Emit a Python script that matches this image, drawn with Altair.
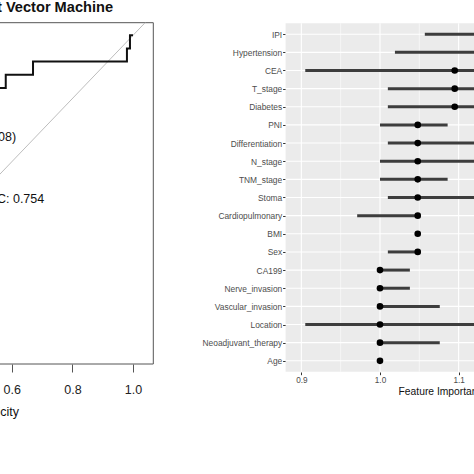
import json

import altair as alt
import pandas as pd

# ---------------------------------------------------------------------------
# Left panel: ROC curve of the support vector machine
# ---------------------------------------------------------------------------
roc_fpr = [0.00, 0.00, 0.04, 0.04, 0.08, 0.08, 0.14, 0.14, 0.20, 0.20, 0.25, 0.25,
           0.33, 0.33, 0.42, 0.42, 0.50, 0.50, 0.58, 0.58, 0.67, 0.67, 0.98, 0.98,
           0.99, 0.99, 1.00]
roc_tpr = [0.000, 0.250, 0.250, 0.375, 0.375, 0.500, 0.500, 0.583, 0.583, 0.667,
           0.667, 0.708, 0.708, 0.750, 0.750, 0.792, 0.792, 0.833, 0.833, 0.875,
           0.875, 0.917, 0.917, 0.958, 0.958, 1.000, 1.000]
roc_ticks = [0.6, 0.8, 1.0]
model_title = "Support Vector Machine"
threshold_label = "0.512 (0.750, 0.708)"
auc_label = "AUC: 0.754"
roc_xlabel = "1 - Specificity"

# ---------------------------------------------------------------------------
# Right panel: permutation feature importance (ratio) with 5-95% interval
# ---------------------------------------------------------------------------
features = ["IPI", "Hypertension", "CEA", "T_stage", "Diabetes", "PNI",
            "Differentiation", "N_stage", "TNM_stage", "Stoma", "Cardiopulmonary",
            "BMI", "Sex", "CA199", "Nerve_invasion", "Vascular_invasion",
            "Location", "Neoadjuvant_therapy", "Age"]
importance = [1.190, 1.143, 1.095, 1.095, 1.095, 1.048, 1.048, 1.048, 1.048, 1.048,
              1.048, 1.048, 1.048, 1.000, 1.000, 1.000, 1.000, 1.000, 1.000]
imp_lo = [1.057, 1.019, 0.905, 1.010, 1.010, 1.000, 1.010, 1.000, 1.000, 1.010,
          0.971, 1.048, 1.010, 1.000, 1.000, 1.000, 0.905, 1.000, 1.000]
imp_hi = [1.248, 1.190, 1.143, 1.143, 1.143, 1.086, 1.133, 1.133, 1.086, 1.133,
          1.048, 1.048, 1.048, 1.038, 1.038, 1.076, 1.143, 1.076, 1.000]
imp_major = [0.9, 1.0, 1.1, 1.2]
imp_minor = [0.95, 1.05, 1.15, 1.25]
imp_xlabel = "Feature Importance"

FONT = "Liberation Sans"

# ---------------------------------------------------------------------------
# Scales: both panels share one canvas, each with its own pixel range
# ---------------------------------------------------------------------------
ROC_X_DOM = [-0.04, 1.067]
ROC_Y_DOM = [-0.04, 1.04]
roc_xs = alt.Scale(domain=ROC_X_DOM, range=[-182.1, 153.3], nice=False, zero=False)
roc_ys = alt.Scale(domain=ROC_Y_DOM, range=[364.0, 22.7], nice=False, zero=False)

IMP_X_DOM = [0.880, 1.2815]
IMP_Y_DOM = [-0.6, len(features) - 0.4]
imp_xs = alt.Scale(domain=IMP_X_DOM, range=[285.6, 601.4], nice=False, zero=False)
imp_ys = alt.Scale(domain=IMP_Y_DOM, range=[23.3, 371.7], nice=False, zero=False)

roc_xaxis = alt.Axis(orient="bottom", offset=-110, values=roc_ticks, format=".1f",
                     title=None, domain=False, grid=False, tickSize=8,
                     tickColor="#555555", tickWidth=1, labelFont=FONT,
                     labelFontSize=12.5, labelColor="#222222", labelPadding=11)
imp_xaxis = alt.Axis(orient="bottom", offset=-102, values=imp_major, format=".1f",
                     title=None, domain=False, grid=False, tickSize=2.7,
                     tickColor="#333333", tickWidth=1, labelFont=FONT,
                     labelFontSize=8.2, labelColor="#4D4D4D", labelPadding=1.3)
imp_yaxis = alt.Axis(orient="left", offset=-285.6, values=list(range(len(features))),
                     labelExpr=json.dumps(features) + "[datum.value]",
                     title=None, domain=False, grid=False, tickSize=3,
                     tickColor="#333333", tickWidth=1, labelFont=FONT,
                     labelFontSize=8.4, labelColor="#4D4D4D", labelPadding=0.9)


def rx(field):
    return alt.X(field, type="quantitative", scale=roc_xs, axis=roc_xaxis)


def ry(field):
    return alt.Y(field, type="quantitative", scale=roc_ys, axis=None)


def ix(field):
    return alt.X(field, type="quantitative", scale=imp_xs, axis=imp_xaxis)


def iy(field):
    return alt.Y(field, type="quantitative", scale=imp_ys, axis=imp_yaxis)


# ---------------------------------------------------------------------------
# ROC panel layers
# ---------------------------------------------------------------------------
frame_df = pd.DataFrame({"x0": [ROC_X_DOM[0]], "x1": [ROC_X_DOM[1]],
                         "y0": [ROC_Y_DOM[0]], "y1": [ROC_Y_DOM[1]]})
frame = alt.Chart(frame_df).mark_rect(fill=None, stroke="#555555", strokeWidth=1).encode(
    x=rx("x0"), x2="x1", y=ry("y0"), y2="y1")

diag_df = pd.DataFrame({"a": [ROC_Y_DOM[0]], "b": [ROC_Y_DOM[1]]})
diag = alt.Chart(diag_df).mark_rule(color="#BDBDBD", strokeWidth=1).encode(
    x=rx("a"), x2="b", y=ry("a"), y2="b")

curve_df = pd.DataFrame({"fpr": roc_fpr, "tpr": roc_tpr,
                         "step": list(range(len(roc_fpr)))})
curve = alt.Chart(curve_df).mark_line(color="#111111", strokeWidth=2).encode(
    x=rx("fpr"), y=ry("tpr"), order="step:Q")

notes_df = pd.DataFrame({
    "label": [threshold_label, auc_label, roc_xlabel],
    "nx": [0.614, 0.707, 0.624],
    "ny": [0.679, 0.481, -0.191],
})
notes = alt.Chart(notes_df).mark_text(align="right", baseline="middle", font=FONT,
                                      fontSize=12.5, color="#111111").encode(
    x=rx("nx"), y=ry("ny"), text="label:N")

title_df = pd.DataFrame({"label": [model_title], "nx": [0.934], "ny": [1.088]})
title = alt.Chart(title_df).mark_text(align="right", baseline="middle", font=FONT,
                                      fontSize=14.6, fontWeight="bold",
                                      color="#111111").encode(
    x=rx("nx"), y=ry("ny"), text="label:N")

roc_panel = alt.layer(frame, diag, curve, notes, title)

# ---------------------------------------------------------------------------
# Feature importance panel layers
# ---------------------------------------------------------------------------
bg_df = pd.DataFrame({"x0": [IMP_X_DOM[0]], "x1": [IMP_X_DOM[1]],
                      "y0": [IMP_Y_DOM[0]], "y1": [IMP_Y_DOM[1]]})
bg = alt.Chart(bg_df).mark_rect(fill="#EBEBEB").encode(
    x=ix("x0"), x2="x1", y=iy("y0"), y2="y1")

minor_df = pd.DataFrame({"v": imp_minor, "y0": IMP_Y_DOM[0], "y1": IMP_Y_DOM[1]})
minor = alt.Chart(minor_df).mark_rule(color="#FFFFFF", strokeWidth=0.55).encode(
    x=ix("v"), y=iy("y0"), y2="y1")

major_df = pd.DataFrame({"v": imp_major, "y0": IMP_Y_DOM[0], "y1": IMP_Y_DOM[1]})
major = alt.Chart(major_df).mark_rule(color="#FFFFFF", strokeWidth=1.1).encode(
    x=ix("v"), y=iy("y0"), y2="y1")

rows_df = pd.DataFrame({"row": list(range(len(features))),
                        "x0": IMP_X_DOM[0], "x1": IMP_X_DOM[1]})
rows = alt.Chart(rows_df).mark_rule(color="#FFFFFF", strokeWidth=1.1).encode(
    x=ix("x0"), x2="x1", y=iy("row"))

imp_df = pd.DataFrame({"feature": features, "row": list(range(len(features))),
                       "importance": importance, "lo": imp_lo, "hi": imp_hi})
bars = alt.Chart(imp_df).mark_rule(color="#3D3D3D", strokeWidth=3).encode(
    x=ix("lo"), x2="hi", y=iy("row"))
points = alt.Chart(imp_df).mark_circle(color="#000000", size=44, opacity=1).encode(
    x=ix("importance"), y=iy("row"))

xt_df = pd.DataFrame({"label": [imp_xlabel],
                      "nx": [(IMP_X_DOM[0] + IMP_X_DOM[1]) / 2], "ny": [19.735]})
xtitle = alt.Chart(xt_df).mark_text(align="center", baseline="middle", font=FONT,
                                    fontSize=10.3, color="#111111").encode(
    x=ix("nx"), y=iy("ny"), text="label:N")

imp_panel = alt.layer(bg, minor, major, rows, bars, points, xtitle)

chart = (
    alt.layer(roc_panel, imp_panel)
    .resolve_scale(x="independent", y="independent")
    .resolve_axis(x="independent", y="independent")
    .properties(width=474, height=474, padding=0,
                autosize=alt.AutoSizeParams(type="none"), background="white")
    .configure_view(strokeWidth=0)
)

chart.save("out.html", embed_options={"renderer": "svg", "actions": False})
